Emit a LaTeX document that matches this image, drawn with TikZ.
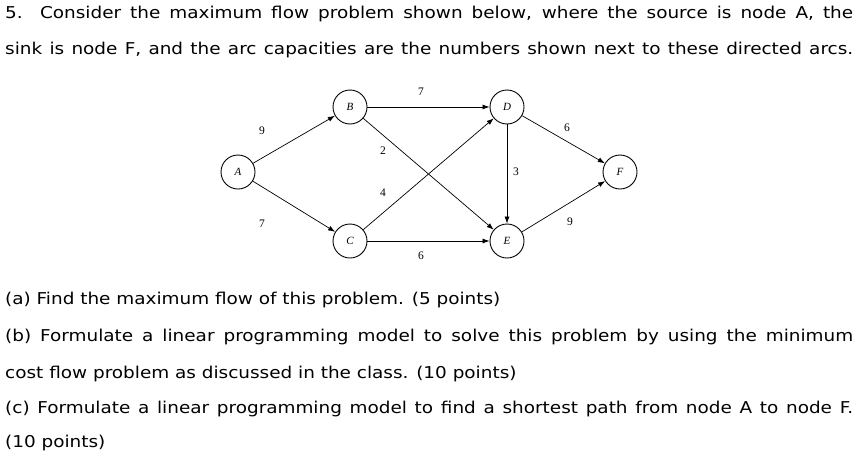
\documentclass[tikz,border=0pt]{standalone}
\usepackage{fontspec}
\setmainfont[FakeStretch=1.13]{DejaVu Sans}
\newfontfamily\gser{Liberation Serif}
\usetikzlibrary{arrows.meta}
\newcommand{\jline}[1]{\makebox[848pt][s]{#1}}
\begin{document}
\begin{tikzpicture}[x=1pt,y=-1pt,
  txt/.style={anchor=west,inner sep=0pt,font=\fontsize{16.3}{18}\selectfont},
  vert/.style={circle,draw,line width=0.9pt,minimum size=34pt,inner sep=0pt,font=\gser\fontsize{11}{12}\itshape},
  arc/.style={line width=0.7pt,-{Latex[length=7pt,width=5pt]}},
  lab/.style={font=\gser\fontsize{11.5}{12}\selectfont,inner sep=0pt}]
\useasboundingbox (0,0) rectangle (858,458);
\node[txt] (t1) at (5,14) {\jline{5. Consider the maximum flow problem shown below, where the source is node A, the}};
\node[txt] (t2) at (5,50) {\jline{sink is node F, and the arc capacities are the numbers shown next to these directed arcs.}};
\node[txt] (t3) at (5,300) {(a) Find the maximum flow of this problem. (5 points)};
\node[txt] (t4) at (5,337) {\jline{(b) Formulate a linear programming model to solve this problem by using the minimum}};
\node[txt] (t5) at (5,374) {cost flow problem as discussed in the class. (10 points)};
\node[txt] (t6) at (5,409) {\jline{(c) Formulate a linear programming model to find a shortest path from node A to node F.}};
\node[txt] (t7) at (5,443) {(10 points)};
\node[vert] (A) at (238,172) {A};
\node[vert] (B) at (350,107) {B};
\node[vert] (D) at (507,107) {D};
\node[vert] (C) at (350,241) {C};
\node[vert] (E) at (507,241) {E};
\node[vert] (F) at (620,172) {F};
\draw[arc] (A) -- (B);
\draw[arc] (A) -- (C);
\draw[arc] (B) -- (D);
\draw[arc] (B) -- (E);
\draw[arc] (C) -- (D);
\draw[arc] (C) -- (E);
\draw[arc] (D) -- (E);
\draw[arc] (D) -- (F);
\draw[arc] (E) -- (F);
\node[lab] (l1) at (262,131) {9};
\node[lab] (l2) at (262,224) {7};
\node[lab] (l3) at (421,92) {7};
\node[lab] (l4) at (383,151) {2};
\node[lab] (l5) at (383,193) {4};
\node[lab] (l6) at (516,172) {3};
\node[lab] (l7) at (567,128) {6};
\node[lab] (l8) at (570,222) {9};
\node[lab] (l9) at (421,256) {6};
\end{tikzpicture}
\end{document}
